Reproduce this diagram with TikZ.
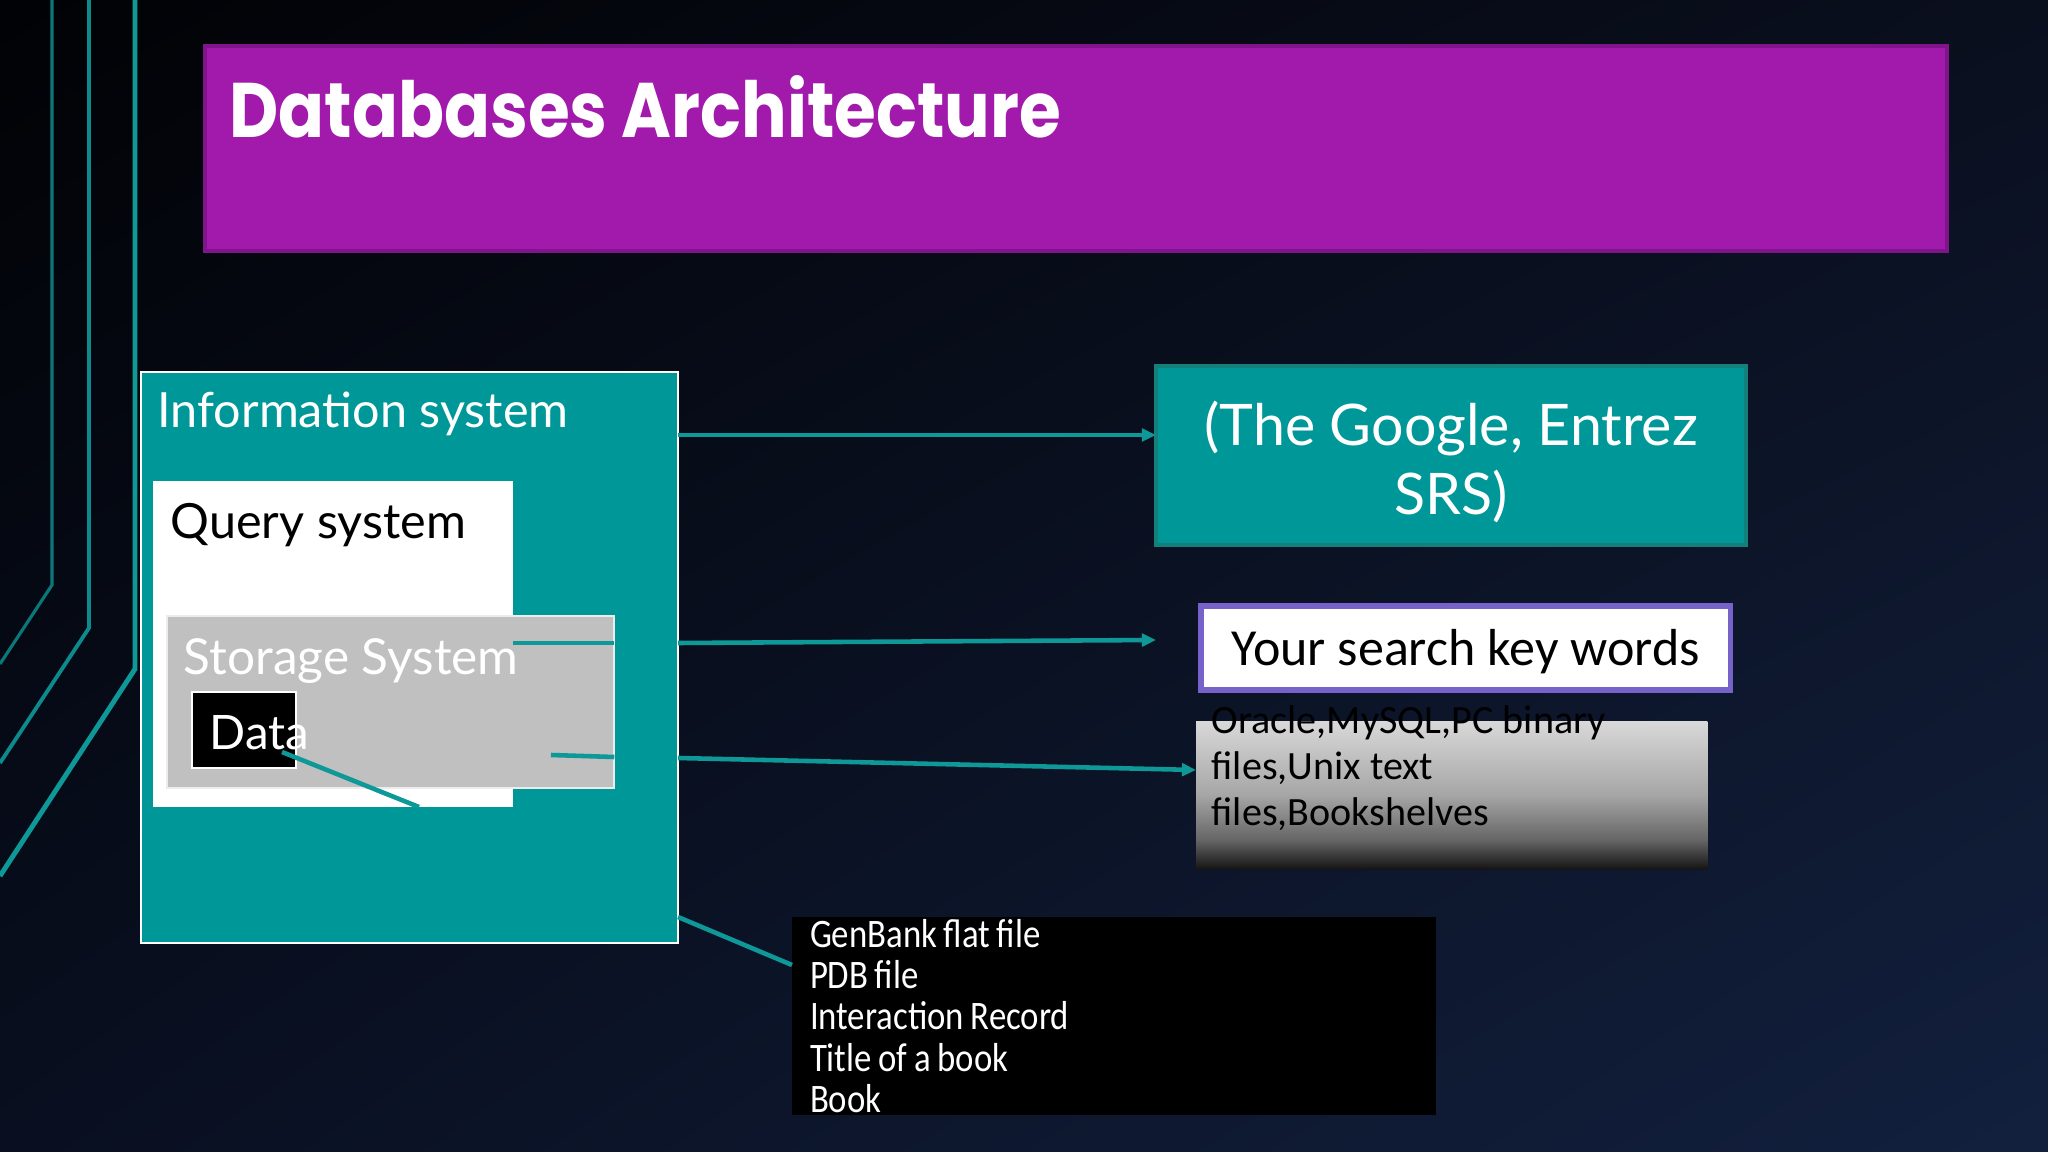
\documentclass[tikz,border=0pt]{standalone}
\usepackage{fontspec}
\setmainfont{Lato}
\newfontfamily\titlefont{Poppins}[FakeStretch=0.875]
\newfontfamily\calfont{Carlito}
\newfontfamily\narrowfont{Carlito}[FakeStretch=0.86]
\usetikzlibrary{arrows.meta, positioning, shadings}

\definecolor{bgtl}{RGB}{1,2,5}
\definecolor{bgtr}{RGB}{10,15,30}
\definecolor{bgbl}{RGB}{9,15,32}
\definecolor{bgbr}{RGB}{18,32,62}
\definecolor{tealfill}{RGB}{0,151,153}
\definecolor{tealline}{RGB}{14,152,152}
\definecolor{tealedge}{RGB}{20,128,124}
\definecolor{titlefill}{RGB}{162,26,171}
\definecolor{titleedge}{RGB}{128,20,138}
\definecolor{searchedge}{RGB}{118,98,200}
\definecolor{storegray}{RGB}{192,192,192}
\definecolor{decoA}{RGB}{10,120,122}
\definecolor{decoB}{RGB}{12,138,140}
\definecolor{decoC}{RGB}{14,152,152}

\pgfdeclareverticalshading{oraclefade}{100bp}{color(0bp)=(black!92); color(25bp)=(black!92); color(35bp)=(black!60); color(50bp)=(black!35); color(75bp)=(black!15); color(100bp)=(black!15)}

\tikzset{
    panel/.style={anchor=north west, inner sep=0pt, outer sep=0pt},
    boxtext/.style={anchor=base west, inner sep=0pt, font=\fontsize{13.8pt}{16pt}\selectfont},
    arrow/.style={-{Triangle[length=4pt,width=3.6pt]}, line width=1.3pt, tealline},
    link/.style={line width=1.3pt, tealline},
    deco/.style={line join=miter}
}

\begin{document}
\begin{tikzpicture}[x=0.01cm, y=-0.01cm]
    \useasboundingbox (0,0) rectangle (2048,1152);
    % background
    \shade[upper left=bgtl, upper right=bgtr, lower left=bgbl, lower right=bgbr] (0,0) rectangle (2048,1152);
    % side lines
    \draw[deco, line width=0.9pt, decoA] (52,0) -- (52,585) -- (0,664);
    \draw[deco, line width=1.1pt, decoB] (89,0) -- (89,628) -- (0,763);
    \draw[deco, line width=1.4pt, decoC] (135,0) -- (135,669) -- (0,876);

    % title
    \node[panel, fill=titlefill, draw=titleedge, line width=1.2pt, minimum width=17.41cm, minimum height=2.05cm] (titlebar) at (205,46) {};
    \node[anchor=base west, inner sep=0pt, text=white, font=\titlefont\bfseries\fontsize{22pt}{26pt}\selectfont] (title) at (229,138) {Databases Architecture};

    % left side
    \node[panel, fill=tealfill, draw=white, line width=0.6pt, minimum width=5.37cm, minimum height=5.71cm] (info) at (141,372) {};
    \node[panel, fill=white, minimum width=3.60cm, minimum height=3.26cm] (query) at (153,481) {};
    \node[panel, fill=storegray, draw=white!85!gray, line width=0.5pt, minimum width=4.47cm, minimum height=1.72cm] (storage) at (167,616) {};
    \node[panel, fill=black, draw=white, line width=0.5pt, minimum width=1.04cm, minimum height=0.76cm] (data) at (192,692) {};

    \node[boxtext, text=white] (infotxt) at (157,428) {Information system};
    \node[boxtext, text=black] (querytxt) at (170,538) {Query system};
    \node[boxtext, text=white, font=\fontsize{14.1pt}{16pt}\selectfont] (storetxt) at (183,674) {Storage System};
    \node[boxtext, text=white, font=\fontsize{13.5pt}{16pt}\selectfont] (datatxt) at (209,749) {Data};

    % right side
    \node[panel, fill=tealfill, draw=tealedge, line width=1.2pt, minimum width=5.90cm, minimum height=1.79cm] (google) at (1156,366) {};
    \node[text=white, align=center, inner sep=0pt, font=\fontsize{16.3pt}{19.6pt}\selectfont] (googletxt) at ([yshift=-1.8pt]google.center) {(The Google, Entrez\\SRS)};
    \node[panel, fill=white, draw=searchedge, line width=1.5pt, minimum width=5.29cm, minimum height=0.84cm] (search) at (1201,606) {};
    \node[inner sep=0pt, font=\calfont\fontsize{14.8pt}{18pt}\selectfont] (searchtxt) at ([yshift=-1pt]search.center) {Your search key words};
    \node[panel, shading=oraclefade, minimum width=5.11cm, minimum height=1.48cm] (oracle) at (1196,721) {};
    \node[anchor=north west, inner sep=0pt, align=left, font=\calfont\fontsize{11.4pt}{13.1pt}\selectfont] (oracletxt) at (1211,705) {Oracle,MySQL,PC binary\\files,Unix text\\files,Bookshelves};
    \node[panel, fill=black, text=white, align=left, inner xsep=0.18cm, text width=6.08cm, minimum height=1.98cm, font=\narrowfont\fontsize{11.5pt}{11.7pt}\selectfont] (genbank) at (792,917) {\spaceskip=1.9pt\relax GenBank flat file\\PDB file\\Interaction Record\\Title of a book\\Book};

    % connectors
    \coordinate (s1) at (513,643);
    \coordinate (s2) at (551,755);
    \coordinate (d1) at (282,752);
    \coordinate (d2) at (419,807);
    \coordinate (a1) at (678,435);
    \coordinate (a2) at (678,643);
    \coordinate (t2) at (1156,640);
    \coordinate (a3) at (678,758);
    \coordinate (t3) at (1196,770);
    \coordinate (g0) at (678,917);
    \coordinate (g1) at (792,965);
    \draw[link] (s1) -- (s1 -| storage.east);
    \draw[link] (s2) -- (storage.east |- 0,757);
    \draw[link] (d1) -- (d2);
    \draw[arrow] (a1) -- (a1 -| google.west);
    \draw[arrow] (a2) -- (t2);
    \draw[arrow] (a3) -- (t3);
    \draw[link] (g0) -- (g1);
\end{tikzpicture}
\end{document}
